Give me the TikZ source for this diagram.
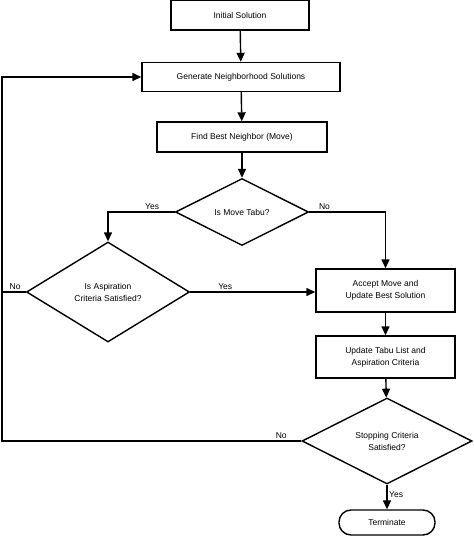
\documentclass[tikz,border=0pt]{standalone}
\usepackage{fontspec}
\setmainfont{Liberation Sans}
\usetikzlibrary{positioning, shapes.geometric, arrows.meta}

\begin{document}
\begin{tikzpicture}[x=1pt, y=-1pt, line width=1.4pt, >={Triangle[length=9pt, width=8pt]},
	every node/.style={font=\fontsize{8.5}{12}\selectfont},
	box/.style={draw, rectangle, align=center},
	decision/.style={draw, diamond, aspect=2, inner sep=0pt, align=center},
	lbl/.style={inner sep=1.5pt}]
	\useasboundingbox (0, 0) rectangle (474, 536);
	\node[box, minimum width=138pt, minimum height=30pt] (init) at (240, 15) {Initial Solution};
	\node[box, minimum width=198pt, minimum height=29pt] (gen) at (241, 77) {Generate Neighborhood Solutions};
	\node[box, minimum width=170pt, minimum height=30pt] (find) at (242, 137) {Find Best Neighbor (Move)};
	\node[decision, minimum width=133pt, minimum height=67pt] (tabu) at (242, 212) {Is Move Tabu?};
	\node[decision, minimum width=163pt, minimum height=100pt] (asp) at (108, 292) {Is Aspiration\\Criteria Satisfied?};
	\node[box, minimum width=139pt, minimum height=43pt] (accept) at (385.5, 290.5) {Accept Move and\\Update Best Solution};
	\node[box, minimum width=139pt, minimum height=42pt] (update) at (385.5, 357) {Update Tabu List and\\Aspiration Criteria};
	\node[decision, minimum width=170pt, minimum height=86pt] (stop) at (387, 441) {Stopping Criteria\\Satisfied?};
	\node[draw, rectangle, rounded corners=12pt, minimum width=96pt, minimum height=25pt] (term) at (387, 522.5) {Terminate};
	\coordinate (loop) at (2, 441);

	\draw[->] (init) -- (gen);
	\draw[->] (gen) -- (find);
	\draw[->] (find) -- (tabu);
	\draw[->] (tabu.west) -| node[lbl, pos=0.17, above] {Yes} (asp.north);
	\draw[->] (tabu.east) -| node[lbl, pos=0.1, above] {No} (accept.north);
	\draw[->] (asp.east) -- node[lbl, pos=0.28, above] {Yes} (asp.east -| accept.west);
	\draw (asp.west) -- node[lbl, pos=0.45, above] {No} (asp.west -| loop);
	\draw[->] (accept) -- (update);
	\draw[->] (update) -- (stop);
	\draw[->] (stop.south) -- node[lbl, pos=0.4, right] {Yes} (term.north);
	\draw[->] (stop.west) -- node[lbl, pos=0.067, above] {No} (loop) |- (gen.west);
\end{tikzpicture}
\end{document}
